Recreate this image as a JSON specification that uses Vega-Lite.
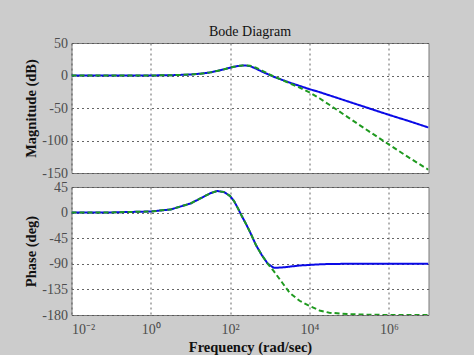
{
  "$schema": "https://vega.github.io/schema/vega-lite/v6.json",
  "background": "#cccccc",
  "padding": {"left": 22.5, "top": 24, "right": 45, "bottom": 8},
  "config": {
    "font": "Liberation Serif",
    "view": {"fill": "white", "stroke": "#7a7a7a", "strokeWidth": 1},
    "axis": {
      "labelFont": "Liberation Serif",
      "labelFontSize": 14,
      "labelColor": "#4d4d4d",
      "titleFont": "Liberation Serif",
      "titleFontSize": 14.5,
      "titleFontWeight": "bold",
      "titleColor": "#111111",
      "gridColor": "#555555",
      "gridDash": [2, 3],
      "gridOpacity": 0.9,
      "gridWidth": 1,
      "domain": false,
      "ticks": false
    },
    "title": {"font": "Liberation Serif", "fontSize": 14, "fontWeight": "normal", "color": "#111111"}
  },
  "data": {
    "values": [
      {"w": 0.01, "sys": "a", "mag": 0, "phase": 0},
      {"w": 0.1, "sys": "a", "mag": 0, "phase": 0.3},
      {"w": 1, "sys": "a", "mag": 0.1, "phase": 2},
      {"w": 3.162, "sys": "a", "mag": 0.4, "phase": 5.5},
      {"w": 10, "sys": "a", "mag": 1.5, "phase": 16},
      {"w": 17.78, "sys": "a", "mag": 2.8, "phase": 25},
      {"w": 31.62, "sys": "a", "mag": 4.8, "phase": 34},
      {"w": 46.77, "sys": "a", "mag": 7, "phase": 38},
      {"w": 70.79, "sys": "a", "mag": 9.5, "phase": 36},
      {"w": 100, "sys": "a", "mag": 12, "phase": 29},
      {"w": 125.9, "sys": "a", "mag": 13.5, "phase": 20},
      {"w": 158.5, "sys": "a", "mag": 14.6, "phase": 7},
      {"w": 199.5, "sys": "a", "mag": 15.2, "phase": -7},
      {"w": 251.2, "sys": "a", "mag": 15.3, "phase": -20},
      {"w": 316.2, "sys": "a", "mag": 14.5, "phase": -34},
      {"w": 446.7, "sys": "a", "mag": 10.5, "phase": -57},
      {"w": 631, "sys": "a", "mag": 6, "phase": -75},
      {"w": 891.3, "sys": "a", "mag": 2, "phase": -90},
      {"w": 1259, "sys": "a", "mag": -2, "phase": -97},
      {"w": 1995, "sys": "a", "mag": -6.5, "phase": -96.5},
      {"w": 3162, "sys": "a", "mag": -11, "phase": -95},
      {"w": 5623, "sys": "a", "mag": -16, "phase": -93},
      {"w": 10000, "sys": "a", "mag": -21, "phase": -92},
      {"w": 17783, "sys": "a", "mag": -25.5, "phase": -91},
      {"w": 31623, "sys": "a", "mag": -30.5, "phase": -90.3},
      {"w": 100000, "sys": "a", "mag": -40.5, "phase": -90},
      {"w": 316228, "sys": "a", "mag": -50.5, "phase": -90},
      {"w": 1000000, "sys": "a", "mag": -60.5, "phase": -90},
      {"w": 3162278, "sys": "a", "mag": -70, "phase": -90},
      {"w": 10000000, "sys": "a", "mag": -80, "phase": -90},

      {"w": 0.01, "sys": "b", "mag": 0, "phase": 0},
      {"w": 0.1, "sys": "b", "mag": 0, "phase": 0.3},
      {"w": 1, "sys": "b", "mag": 0.1, "phase": 2},
      {"w": 3.162, "sys": "b", "mag": 0.4, "phase": 5.5},
      {"w": 10, "sys": "b", "mag": 1.5, "phase": 16},
      {"w": 17.78, "sys": "b", "mag": 2.8, "phase": 25},
      {"w": 31.62, "sys": "b", "mag": 4.8, "phase": 34},
      {"w": 46.77, "sys": "b", "mag": 7, "phase": 38},
      {"w": 70.79, "sys": "b", "mag": 9.5, "phase": 36},
      {"w": 100, "sys": "b", "mag": 12, "phase": 29},
      {"w": 125.9, "sys": "b", "mag": 13.5, "phase": 20},
      {"w": 158.5, "sys": "b", "mag": 14.6, "phase": 7},
      {"w": 199.5, "sys": "b", "mag": 15.2, "phase": -7},
      {"w": 251.2, "sys": "b", "mag": 15.4, "phase": -20},
      {"w": 316.2, "sys": "b", "mag": 15, "phase": -34},
      {"w": 446.7, "sys": "b", "mag": 12, "phase": -57},
      {"w": 631, "sys": "b", "mag": 7.5, "phase": -75},
      {"w": 891.3, "sys": "b", "mag": 3, "phase": -90},
      {"w": 1259, "sys": "b", "mag": -1.5, "phase": -103},
      {"w": 1995, "sys": "b", "mag": -6.5, "phase": -122},
      {"w": 3162, "sys": "b", "mag": -12, "phase": -141},
      {"w": 5623, "sys": "b", "mag": -18.5, "phase": -155},
      {"w": 10000, "sys": "b", "mag": -26, "phase": -164},
      {"w": 17783, "sys": "b", "mag": -35, "phase": -172},
      {"w": 31623, "sys": "b", "mag": -45, "phase": -176},
      {"w": 100000, "sys": "b", "mag": -65.5, "phase": -178.5},
      {"w": 316228, "sys": "b", "mag": -86, "phase": -179.5},
      {"w": 1000000, "sys": "b", "mag": -106, "phase": -180},
      {"w": 3162278, "sys": "b", "mag": -126, "phase": -180},
      {"w": 10000000, "sys": "b", "mag": -145, "phase": -180}
    ]
  },
  "bounds": "flush",
  "spacing": 14,
  "vconcat": [
    {
      "width": 357,
      "height": 130,
      "title": {"text": "Bode Diagram", "offset": -2.5},
      "mark": {"type": "line", "strokeWidth": 2, "clip": true},
      "encoding": {
        "x": {
          "field": "w", "type": "quantitative",
          "scale": {"type": "log", "domain": [0.01, 10000000], "nice": false},
          "axis": {"values": [0.01, 1, 100, 10000, 1000000], "labels": false, "title": null, "grid": true}
        },
        "y": {
          "field": "mag", "type": "quantitative",
          "scale": {"domain": [-150, 50], "nice": false, "zero": false},
          "axis": {"values": [-150, -100, -50, 0, 50], "title": "Magnitude (dB)", "labelPadding": 4, "titlePadding": 3, "labelExpr": "'' + datum.value"}
        },
        "color": {"field": "sys", "type": "nominal", "scale": {"domain": ["a", "b"], "range": ["#0a0ae6", "#1f9a1f"]}, "legend": null},
        "strokeDash": {"field": "sys", "type": "nominal", "scale": {"domain": ["a", "b"], "range": [[1, 0], [5, 3]]}, "legend": null}
      }
    },
    {
      "width": 357,
      "height": 128,
      "mark": {"type": "line", "strokeWidth": 2, "clip": true},
      "encoding": {
        "x": {
          "field": "w", "type": "quantitative",
          "scale": {"type": "log", "domain": [0.01, 10000000], "nice": false},
          "axis": {
            "values": [0.01, 1, 100, 10000, 1000000],
            "grid": true,
            "title": "Frequency (rad/sec)",
            "labelPadding": 7,
            "titlePadding": 4,
            "labelExpr": "datum.value < 0.1 ? '10⁻²' : datum.value < 10 ? '10⁰' : datum.value < 1000 ? '10²' : datum.value < 100000 ? '10⁴' : '10⁶'"
          }
        },
        "y": {
          "field": "phase", "type": "quantitative",
          "scale": {"domain": [-180, 45], "nice": false, "zero": false},
          "axis": {"values": [-180, -135, -90, -45, 0, 45], "title": "Phase (deg)", "labelPadding": 4, "titlePadding": 3, "labelExpr": "'' + datum.value"}
        },
        "color": {"field": "sys", "type": "nominal", "scale": {"domain": ["a", "b"], "range": ["#0a0ae6", "#1f9a1f"]}, "legend": null},
        "strokeDash": {"field": "sys", "type": "nominal", "scale": {"domain": ["a", "b"], "range": [[1, 0], [5, 3]]}, "legend": null}
      }
    }
  ]
}
